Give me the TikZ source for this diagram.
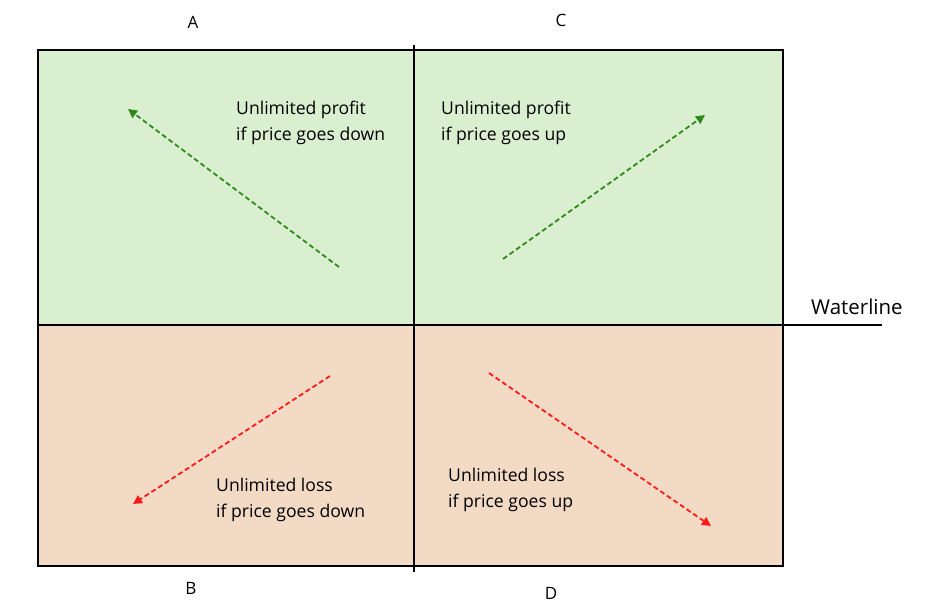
\documentclass[tikz,border=0pt]{standalone}
\usepackage{fontspec}
\setmainfont{Open Sans}
\usetikzlibrary{arrows.meta}
\definecolor{gfill}{HTML}{DAEFD0}
\definecolor{rfill}{HTML}{F3DAC5}
\definecolor{garrow}{HTML}{2F8A1B}
\definecolor{rarrow}{HTML}{FF1A1A}
\begin{document}
\begin{tikzpicture}[x=1pt,y=-1pt,
  lbl/.style={font=\fontsize{17.6}{26}\selectfont, anchor=west, align=left, inner sep=0pt},
  corner/.style={font=\fontsize{17}{20}\selectfont, inner sep=0pt},
  border/.style={line width=2pt, black},
  trend/.style={dashed, dash pattern=on 5pt off 3pt, line width=1.8pt, -{Triangle[length=9pt,width=9pt]}},
  up/.style={trend, garrow},
  down/.style={trend, rarrow}]
\useasboundingbox (0,0) rectangle (940,608);
\fill[gfill] (38,50) rectangle (783,325);
\fill[rfill] (38,325) rectangle (783,566);
\draw[border] (38,50) rectangle (783,566);
\coordinate (vtop) at (414,45);
\coordinate (vbot) at (414,572);
\coordinate (hleft) at (38,325);
\coordinate (hright) at (882,325);
\draw[border] (vtop) -- (vbot);
\draw[border] (hleft) -- (hright);
\node[corner] (lA) at (193,22) {A};
\node[corner] (lC) at (561,20) {C};
\node[corner] (lB) at (191,588) {B};
\node[corner] (lD) at (551,593) {D};
\node[corner, font=\fontsize{20.5}{24}\selectfont, anchor=west] (wl) at (811,307) {Waterline};
\node[lbl] (tA) at (236,123) {Unlimited profit\\if price goes down};
\node[lbl] (tC) at (441,123) {Unlimited profit\\if price goes up};
\node[lbl] (tB) at (216,500) {Unlimited loss\\if price goes down};
\node[lbl] (tD) at (448,490) {Unlimited loss\\if price goes up};
\coordinate (a1) at (339,267); \coordinate (a2) at (128,109);
\coordinate (c1) at (503,259); \coordinate (c2) at (705,115);
\coordinate (b1) at (330,376); \coordinate (b2) at (133,504);
\coordinate (d1) at (489,373); \coordinate (d2) at (711,526);
\draw[up] (a1) -- (a2);
\draw[up] (c1) -- (c2);
\draw[down] (b1) -- (b2);
\draw[down] (d1) -- (d2);
\end{tikzpicture}
\end{document}
